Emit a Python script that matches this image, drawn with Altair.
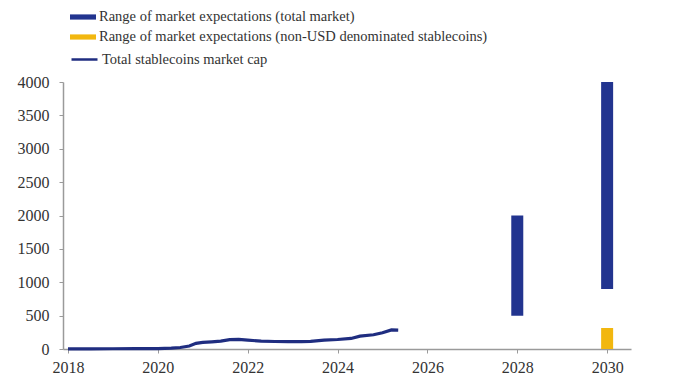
import altair as alt
import pandas as pd

# Total stablecoins market cap (USD bn)
line_years = [2018.0, 2018.5, 2019.0, 2019.5, 2020.0, 2020.3, 2020.5, 2020.7, 2020.85,
              2021.0, 2021.2, 2021.4, 2021.6, 2021.8, 2022.0, 2022.3, 2022.6, 2022.9,
              2023.2, 2023.4, 2023.7, 2024.0, 2024.3, 2024.5, 2024.8, 2025.0, 2025.2, 2025.35]
line_values = [2, 3, 4, 5, 6, 12, 22, 45, 85,
               100, 108, 118, 140, 143, 132, 118, 112, 110,
               110, 115, 132, 142, 158, 192, 213, 243, 285, 282]
line_label = ["Total stablecoins market cap"]

# Ranges of market expectations
bar_years = [2028, 2030, 2030]
bar_low = [500, 900, 0]
bar_high = [2000, 4000, 315]
bar_series = ["Range of market expectations (total market)",
              "Range of market expectations (total market)",
              "Range of market expectations (non-USD denominated stablecoins)"]
bar_domain = ["Range of market expectations (total market)",
              "Range of market expectations (non-USD denominated stablecoins)"]
bar_colors = ["#22348f", "#f2b70f"]
line_color = "#1f2d80"

x_ticks = [2018, 2020, 2022, 2024, 2026, 2028, 2030]
y_ticks = [0, 500, 1000, 1500, 2000, 2500, 3000, 3500, 4000]

FONT = "Liberation Serif"

line_df = pd.DataFrame({"year": line_years, "value": line_values,
                        "series": line_label * len(line_years)})
bar_df = pd.DataFrame({"year": bar_years, "low": bar_low, "high": bar_high,
                       "series": bar_series})

x_axis = alt.Axis(values=x_ticks, format="d", title=None, grid=False,
                  labelOverlap=False, labelPadding=6)
y_axis = alt.Axis(values=y_ticks, format="d", title=None, grid=False,
                  labelOverlap=False, labelPadding=10)
x_scale = alt.Scale(domain=[2018, 2030.42], nice=False, zero=False)
y_scale = alt.Scale(domain=[0, 4000], nice=False)

bars = alt.Chart(bar_df).mark_bar(size=12).encode(
    x=alt.X("year:Q", scale=x_scale, axis=x_axis),
    y=alt.Y("low:Q", scale=y_scale, axis=y_axis),
    y2="high:Q",
    color=alt.Color("series:N",
                    scale=alt.Scale(domain=bar_domain, range=bar_colors),
                    legend=alt.Legend(title=None, orient="none", legendX=7, legendY=-78,
                                      symbolType="M-1,-0.2H1V0.2H-1Z", symbolSize=676,
                                      symbolStrokeWidth=0, labelFont=FONT, labelFontSize=14.5,
                                      labelColor="#333333", labelOffset=3, rowPadding=-3,
                                      labelLimit=600)),
)

line = alt.Chart(line_df).mark_line(strokeWidth=3.2, color=line_color).encode(
    x=alt.X("year:Q", scale=x_scale, axis=x_axis),
    y=alt.Y("value:Q", scale=y_scale, axis=y_axis),
    stroke=alt.Stroke("series:N",
                      scale=alt.Scale(domain=line_label, range=[line_color]),
                      legend=alt.Legend(title=None, orient="none", legendX=7, legendY=-37,
                                        symbolType="stroke", symbolSize=676,
                                        symbolStrokeWidth=2.5, labelFont=FONT,
                                        labelFontSize=14.5, labelColor="#333333",
                                        labelOffset=3, labelLimit=600)),
)

chart = alt.layer(bars, line).properties(
    width=568, height=267,
    autosize=alt.AutoSizeParams(type="none"),
    padding={"left": 55, "top": 74, "right": 40, "bottom": 30},
).configure_view(stroke=None).configure_axis(
    labelFont=FONT, labelFontSize=16, labelColor="#333333",
    domainColor="#9a9a9a", domainWidth=1.5, tickColor="#9a9a9a", tickSize=4,
)

chart.save("out.html", embed_options={"renderer": "svg", "actions": False})
